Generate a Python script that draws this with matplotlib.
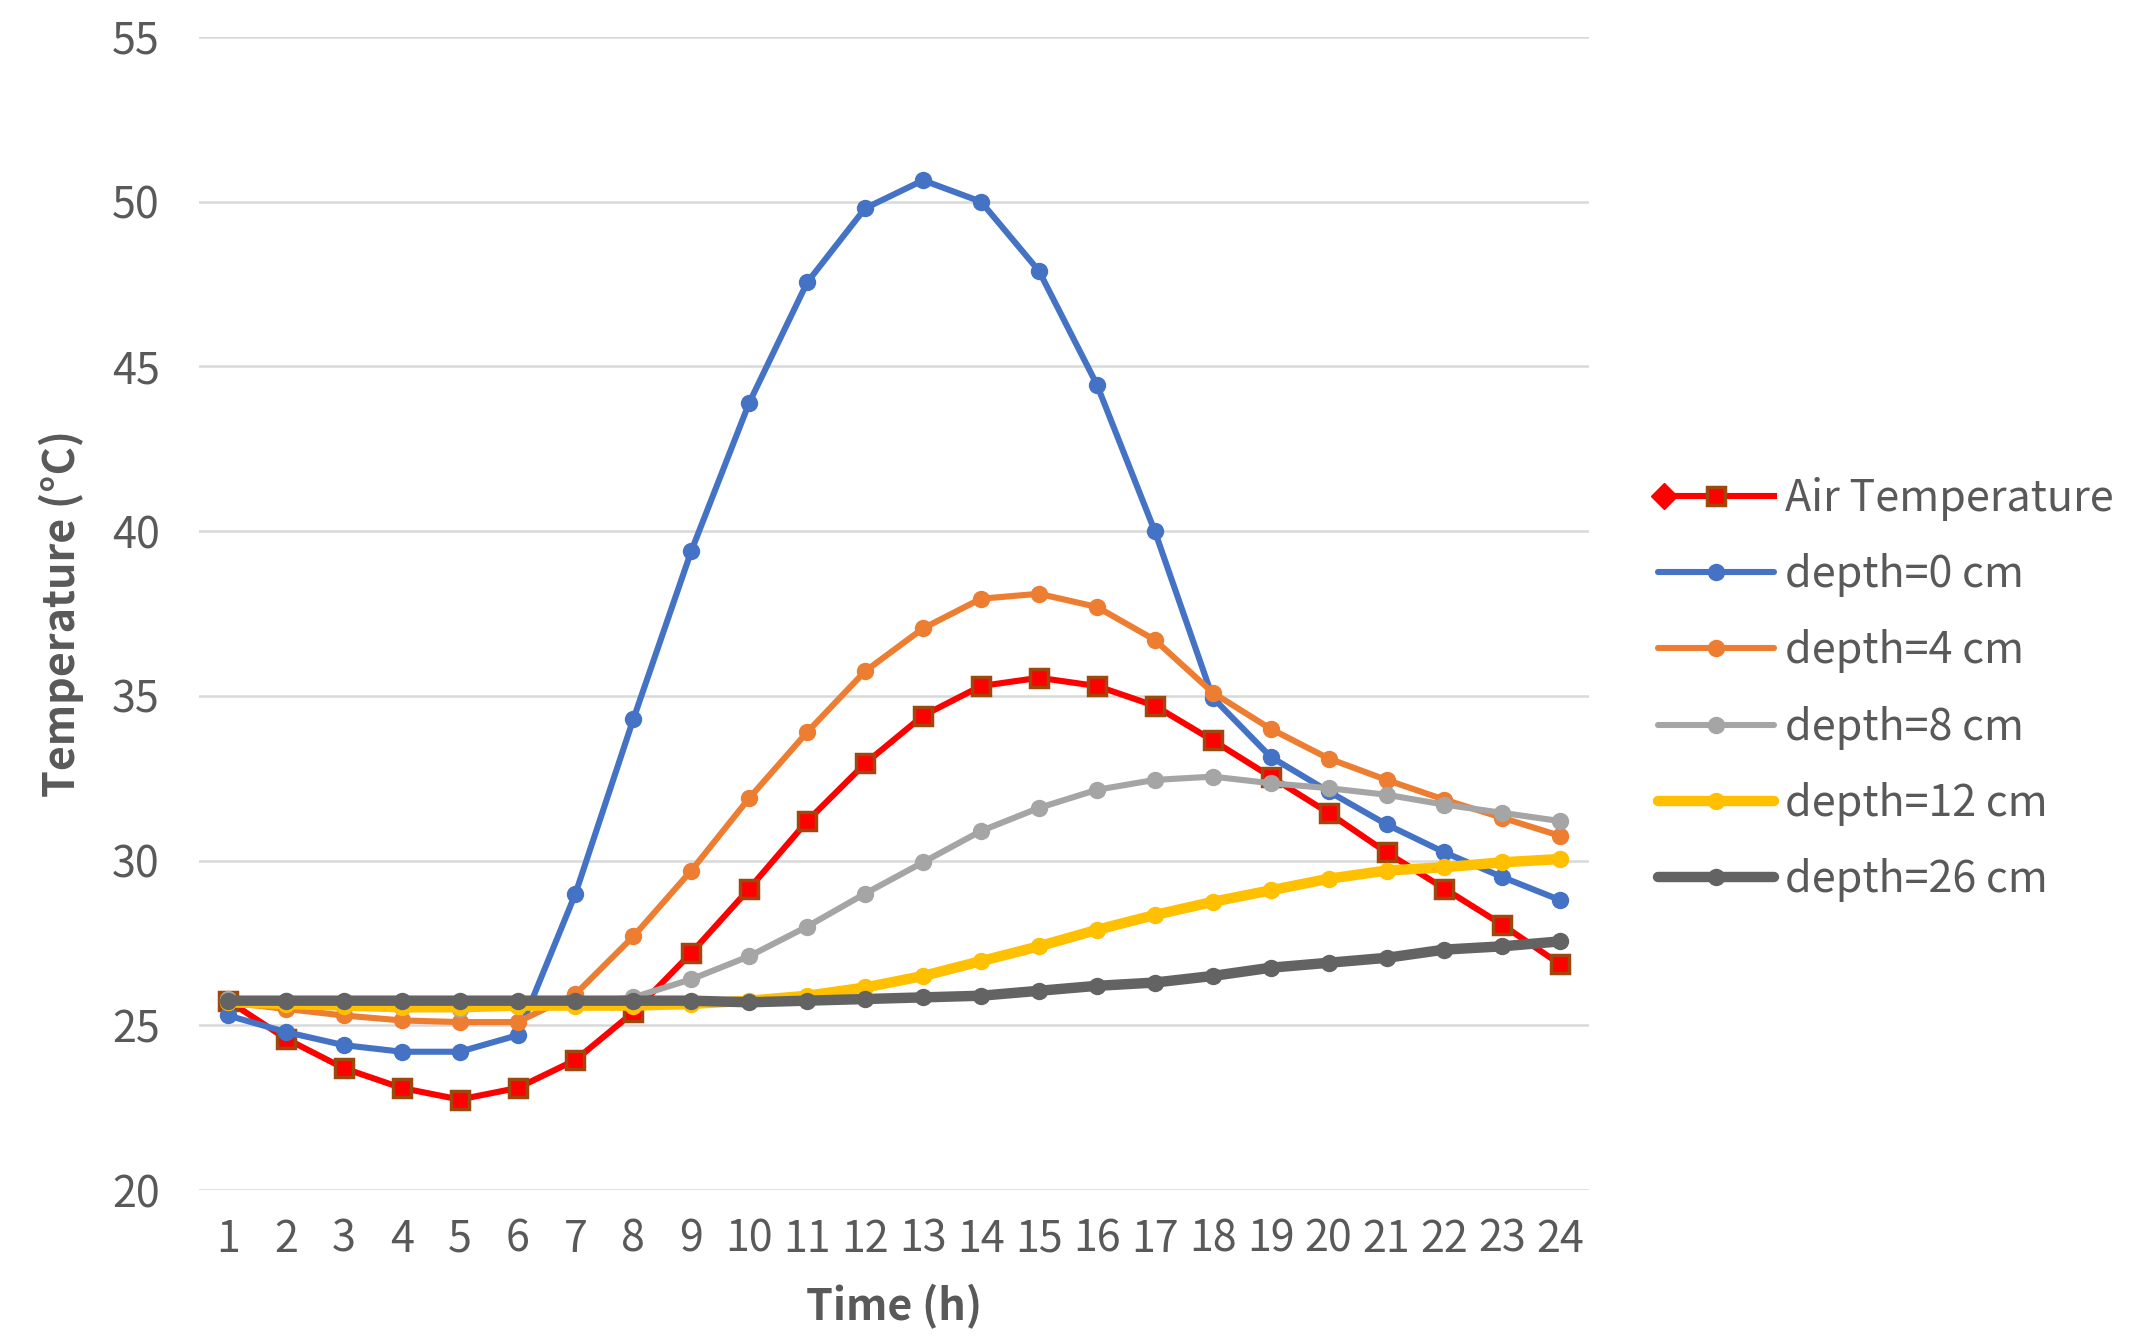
import matplotlib
matplotlib.use("Agg")
import matplotlib.pyplot as plt
from matplotlib.lines import Line2D
from matplotlib.legend_handler import HandlerLine2D

plt.rcParams['font.family'] = ['Noto Sans CJK SC', 'DejaVu Sans']

hours = list(range(1, 25))

air_temp = [25.75, 24.6, 23.7, 23.1, 22.75, 23.1, 23.95, 25.4, 27.2, 29.15, 31.2, 32.95,
            34.4, 35.3, 35.55, 35.3, 34.7, 33.65, 32.55, 31.45, 30.25, 29.15, 28.05, 26.85]
depth_0 = [25.3, 24.8, 24.4, 24.2, 24.2, 24.7, 29.0, 34.3, 39.4, 43.9, 47.55, 49.8,
           50.65, 50.0, 47.9, 44.45, 40.0, 34.95, 33.15, 32.1, 31.1, 30.25, 29.5, 28.8]
depth_4 = [25.7, 25.5, 25.3, 25.15, 25.1, 25.1, 25.95, 27.7, 29.7, 31.9, 33.9, 35.75,
           37.05, 37.95, 38.1, 37.7, 36.7, 35.1, 34.0, 33.1, 32.45, 31.85, 31.3, 30.75]
depth_8 = [25.8, 25.75, 25.7, 25.55, 25.5, 25.6, 25.65, 25.85, 26.4, 27.1, 28.0, 29.0,
           29.95, 30.9, 31.6, 32.15, 32.45, 32.55, 32.35, 32.2, 32.0, 31.7, 31.45, 31.2]
depth_12 = [25.7, 25.65, 25.6, 25.55, 25.55, 25.6, 25.6, 25.6, 25.65, 25.75, 25.9, 26.15,
            26.5, 26.95, 27.4, 27.9, 28.35, 28.75, 29.1, 29.45, 29.7, 29.8, 29.95, 30.05]
depth_26 = [25.75, 25.75, 25.75, 25.75, 25.75, 25.75, 25.75, 25.75, 25.75, 25.7, 25.75, 25.8,
            25.85, 25.9, 26.05, 26.2, 26.3, 26.5, 26.75, 26.9, 27.05, 27.3, 27.4, 27.55]

depth_series = [
    ("depth=0 cm", depth_0, "#4472C4", 4.4),
    ("depth=4 cm", depth_4, "#ED7D31", 4.4),
    ("depth=8 cm", depth_8, "#A5A5A5", 4.4),
    ("depth=12 cm", depth_12, "#FFC000", 7.5),
    ("depth=26 cm", depth_26, "#636363", 7.5),
]

text_color = "#595959"


class AirHandler(HandlerLine2D):
    # excel style legend key: diamond on the left, square in the middle
    def create_artists(self, legend, orig_handle, xdescent, ydescent,
                       width, height, fontsize, trans):
        artists = super().create_artists(legend, orig_handle, xdescent, ydescent,
                                         width, height, fontsize, trans)
        dia = Line2D([-xdescent + width * 0.05], [height / 2 - ydescent],
                     marker="D", markersize=13, color="#FF0000",
                     markeredgecolor="#FF0000", linestyle="none")
        dia.set_transform(trans)
        return artists + [dia]


fig = plt.figure(figsize=(21.39, 13.44), dpi=100)
ax = fig.add_axes([0.093, 0.1145, 0.65, 0.858])

air_line, = ax.plot(hours, air_temp, color="#FF0000", linewidth=4.4, marker="s",
                    markersize=13, markerfacecolor="#FF0000",
                    markeredgecolor="#9E480E", markeredgewidth=2.5,
                    label="Air Temperature", zorder=3)
handles = [air_line]
for name, vals, col, lw in depth_series:
    ln, = ax.plot(hours, vals, color=col, linewidth=lw, marker="o", markersize=11.5,
                  label=name, zorder=3, solid_capstyle="round")
    handles.append(ln)

ax.set_xlim(0.5, 24.5)
ax.set_ylim(20, 55)
ax.set_xticks(hours)
ax.set_yticks(range(20, 56, 5))
ax.grid(axis="y", color="#D9D9D9", linewidth=1.8)
ax.set_axisbelow(True)
for sp in ax.spines.values():
    sp.set_visible(False)
ax.tick_params(axis="both", length=0, labelsize=31, labelcolor=text_color)
ax.tick_params(axis="x", pad=20)
ax.tick_params(axis="y", pad=28)

ax.set_xlabel("Time (h)", fontsize=31, color=text_color, fontweight="bold", labelpad=16)
ax.set_ylabel("Temperature (°C)", fontsize=31, color=text_color, fontweight="bold", labelpad=20)

leg = fig.legend(handles=handles, loc="center left", bbox_to_anchor=(0.775, 0.487),
                 frameon=False, fontsize=31, labelcolor=text_color, handlelength=2.7,
                 handletextpad=0.25, labelspacing=0.75, borderpad=0, borderaxespad=0,
                 handler_map={air_line: AirHandler()})

fig.savefig("out.png", dpi=100)
